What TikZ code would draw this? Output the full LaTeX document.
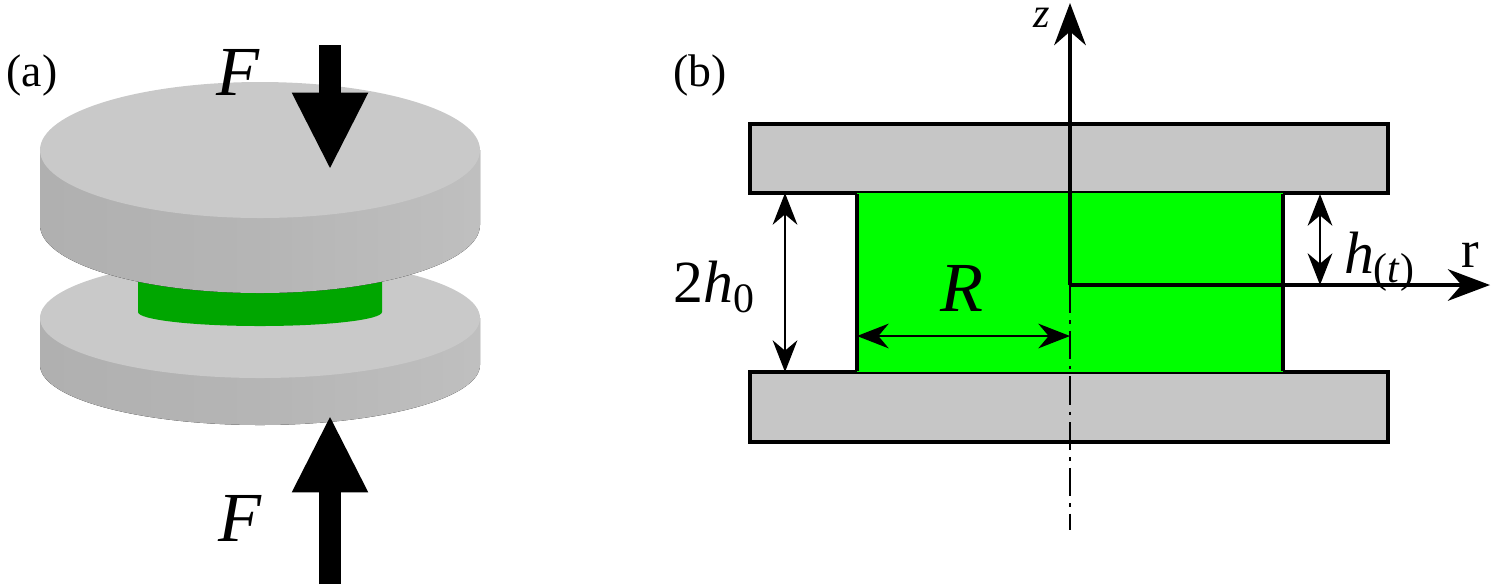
\documentclass[tikz,border=0pt]{standalone}
\usepackage{fontspec}
\setmainfont{Liberation Serif}
\usetikzlibrary{arrows.meta}
\begin{document}
\begin{tikzpicture}[x=0.01cm,y=-0.01cm,
  face/.style={fill=gray!42},
  sidef/.style={left color=gray!62,right color=gray!50,middle color=gray!58},
  plate/.style={draw=black,line width=1.2pt,fill=gray!45},
  dim/.style={{Stealth[length=9pt,width=7pt]}-{Stealth[length=9pt,width=7pt]},line width=0.8pt},
  axis/.style={-{Stealth[length=12pt,width=9pt]},line width=0.9pt},
  force/.style={line width=6pt,-{Triangle[length=22pt,width=20pt]}},
  lab/.style={font=\fontsize{20}{22}\selectfont\itshape}]
\useasboundingbox (0,0) rectangle (1500,584);
% (a)
\node (la) at (32,75) {\fontsize{13}{14}\selectfont (a)};
% bottom disk
\fill[sidef] (40,318) -- (40,365) arc[start angle=180,end angle=0,x radius=220,y radius=60] -- (480,318) -- cycle;
\fill[face] (260,318) ellipse[x radius=220,y radius=60];
% green cylinder
\fill[green!65!black] (138,255) -- (138,312) arc[start angle=180,end angle=0,x radius=122,y radius=14] -- (382,255) -- cycle;
% top disk
\fill[sidef] (40,150) -- (40,225) arc[start angle=180,end angle=0,x radius=220,y radius=68] -- (480,150) -- cycle;
\fill[face] (260,150) ellipse[x radius=220,y radius=68];
% forces
\coordinate (t0) at (330,45); \coordinate (t1) at (330,170);
\coordinate (b0) at (330,584); \coordinate (b1) at (330,415);
\draw[force] (t0) -- (t1);
\draw[force] (b0) -- (b1);
\node[lab] (F1) at (238,72) {F};
\node[lab] (F2) at (240,518) {F};
% (b)
\node (lb) at (700,75) {\fontsize{13}{14}\selectfont (b)};
\node[plate,minimum width=638*0.01cm,minimum height=69*0.01cm,inner sep=0] (top) at (1069,158.5) {};
\node[plate,minimum width=638*0.01cm,minimum height=70*0.01cm,inner sep=0] (bot) at (1069,407) {};
\fill[green] (857,193) rectangle (1283,372);
\draw[line width=1pt] (857,194) -- (857,371) (1283,194) -- (1283,371);
\coordinate (o) at (1070,285);
\coordinate (ztop) at (1070,3);
\coordinate (zbot) at (1070,530);
\coordinate (rend) at (1490,285);
\draw[axis] (o) -- (ztop);
\draw[line width=0.8pt,dash pattern=on 8pt off 2pt on 1pt off 2pt] (o) -- (zbot);
\draw[axis] (o) -- (rend);
\node[font=\fontsize{12}{13}\selectfont\itshape] (zl) at (1042,18) {z};
\node[font=\fontsize{15}{17}\selectfont] (rl) at (1470,255) {r};
\coordinate (a1) at (785,193); \coordinate (a2) at (785,372);
\draw[dim] (a1) -- (a2);
\node[font=\fontsize{17}{18}\selectfont] (h0) at (715,287) {2\textit{h}\textsubscript{0}};
\coordinate (r1) at (857,336); \coordinate (r2) at (1070,336);
\draw[dim] (r1) -- (r2);
\node[lab] (Rl) at (962,288) {R};
\coordinate (h1) at (1320,194); \coordinate (h2) at (1320,285);
\draw[dim] (h1) -- (h2);
\node[font=\fontsize{17}{18}\selectfont] (ht) at (1380,262) {\textit{h}\textsubscript{(\textit{t})}};
\end{tikzpicture}
\end{document}
